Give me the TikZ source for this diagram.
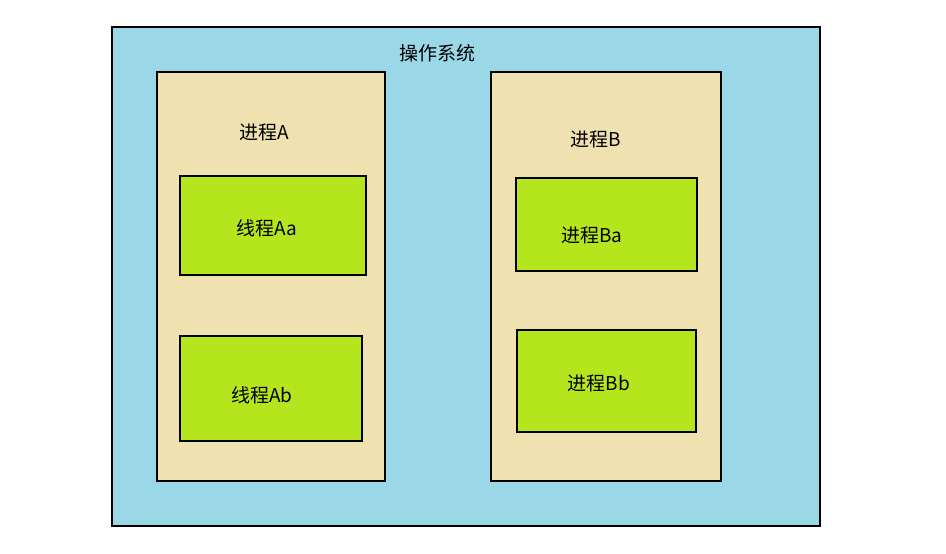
\documentclass[tikz,border=0pt]{standalone}
\usepackage{fontspec}
\setmainfont{Noto Sans CJK SC}
\definecolor{osblue}{HTML}{9AD8E8}
\definecolor{procbg}{HTML}{EFE1B0}
\definecolor{thrgreen}{HTML}{B5E61D}
\begin{document}
\begin{tikzpicture}[x=1pt,y=-1pt,line width=1.8pt,
  box/.style={draw=black},
  lbl/.style={font=\fontsize{19}{22}\selectfont,inner sep=0pt}]
\useasboundingbox[fill=white] (0,0) rectangle (946,554);
\draw[box,fill=osblue] (112,27) rectangle (820,526);
\draw[box,fill=procbg] (157,72) rectangle (385,481);
\draw[box,fill=procbg] (491,72) rectangle (721,481);
\draw[box,fill=thrgreen] (180,176) rectangle (366,275);
\draw[box,fill=thrgreen] (180,336) rectangle (362,441);
\draw[box,fill=thrgreen] (516,178) rectangle (697,271);
\draw[box,fill=thrgreen] (517,330) rectangle (696,432);
\node[lbl] (os) at (437,53) {操作系统};
\node[lbl] (pa) at (264,132) {进程A};
\node[lbl] (aa) at (267,228) {线程Aa};
\node[lbl] (ab) at (262,395) {线程Ab};
\node[lbl] (pb) at (596,139) {进程B};
\node[lbl] (ba) at (592,235) {进程Ba};
\node[lbl] (bb) at (599,383) {进程Bb};
\end{tikzpicture}
\end{document}
